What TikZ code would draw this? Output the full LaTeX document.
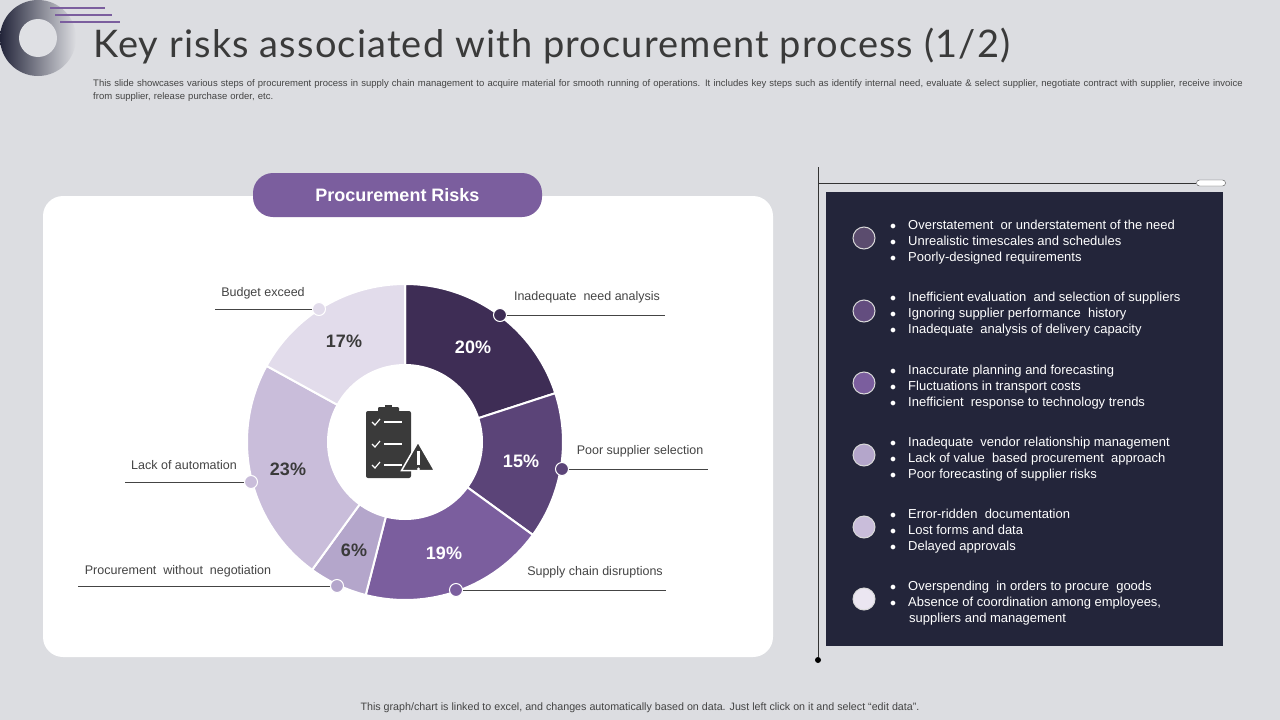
\documentclass[tikz,border=0pt]{standalone}
\usepackage{fontspec}
\setmainfont{Liberation Sans}
\newfontfamily\titlefont[LetterSpace=3]{Lato}
\usetikzlibrary{shapes.geometric}
\definecolor{bg}{HTML}{DCDDE1}
\definecolor{panel}{HTML}{23253A}
\definecolor{pA}{HTML}{3E2D55}
\definecolor{pB}{HTML}{5B4478}
\definecolor{pC}{HTML}{7B5E9E}
\definecolor{pD}{HTML}{B4A6CB}
\definecolor{pE}{HTML}{C9BDDA}
\definecolor{pF}{HTML}{E2DCEB}
\definecolor{txt}{HTML}{444444}
\definecolor{icon}{HTML}{3A3A3A}
\tikzset{
  lbl/.style={font=\fontsize{12.5}{14}\selectfont, text=txt, inner sep=0pt},
  pct/.style={font=\fontsize{18}{20}\selectfont\bfseries, inner sep=0pt},
  leader/.style={draw=txt, line width=0.6pt},
  dot/.style={circle, minimum size=13pt, inner sep=0pt, draw=white, line width=1pt},
  bigdot/.style={circle, minimum size=22pt, inner sep=0pt, draw=white!85!black, line width=1pt},
  risk/.style={font=\fontsize{13}{16}\selectfont, text=white, align=left, anchor=north west, inner sep=0pt}
}
\begin{document}
\begin{tikzpicture}[x=1pt,y=-1pt]
\fill[bg] (0,0) rectangle (1280,720);
\useasboundingbox (0,0) rectangle (1280,720);

% logo
\shade[left color=panel, right color=bg, shading angle=90] (38,38) circle (38);
\fill[bg!90!white] (38,38) circle (19);
\draw[pC, line width=2pt] (50,8) -- (105,8) (55,15) -- (112,15) (60,22) -- (120,22);

% title
\node[anchor=west, inner sep=0pt, font=\titlefont\fontsize{38}{40}\selectfont, text=icon] (title) at (93,46) {Key risks associated with procurement process (1/2)};
\node[anchor=north west, inner sep=0pt, align=left, text width=1162pt, font=\fontsize{9.5}{13}\selectfont, text=txt] (sub) at (93,79)
  {This slide showcases various steps of procurement process in supply chain management to acquire material for smooth running of operations. It includes key steps such as identify internal need, evaluate \& select supplier, negotiate contract with supplier, receive invoice from supplier, release purchase order, etc.};

% left card
\fill[white, rounded corners=20pt] (43,196) rectangle (773,657);
\fill[pC, rounded corners=20pt] (253,173) rectangle (542,217);
\node[font=\fontsize{18}{20}\selectfont\bfseries, text=white] (head) at (397.5,195) {Procurement Risks};

% donut
\begin{scope}[shift={(405,442)}, yscale=-1]
  \foreach \a/\b/\c in {90/18/pA, 18/-36/pB, -36/-104.4/pC, -104.4/-126/pD, -126/-208.8/pE, -208.8/-270/pF}
    \fill[\c, draw=white, line width=2pt] (\a:158) arc (\a:\b:158) -- (\b:0) -- cycle;
  \fill[white] (0,0) circle (78);
\end{scope}
\node[pct, text=white] (p20) at (473,347) {20\%};
\node[pct, text=white] (p15) at (521,461) {15\%};
\node[pct, text=white] (p19) at (444,553) {19\%};
\node[pct, text=icon] (p06) at (354,550) {6\%};
\node[pct, text=icon] (p23) at (288,469) {23\%};
\node[pct, text=icon] (p17) at (344,341) {17\%};

% centre icon
\fill[icon, rounded corners=2pt] (366,411) rectangle (411,478);
\fill[icon, rounded corners=1pt] (378,407) rectangle (399,413);
\fill[icon] (385,405) rectangle (392,408);
\foreach \y in {422,444,465}{
  \draw[white, line width=1.2pt] (372,\y) -- (375,\y+3) -- (380,\y-3);
  \draw[white, line width=1.2pt] (384,\y) -- (402,\y);
}
\node[regular polygon, regular polygon sides=3, fill=icon, draw=white, line width=1.5pt, minimum size=38pt, inner sep=0pt] (warn) at (418,461) {};
\fill[white] (417,451) rectangle (420,465);
\fill[white] (418.5,469) circle (1.7);

% leaders
\node[dot, fill=pA] (dA) at (500,315) {};
\coordinate (eA) at (665,315);
\draw[leader] (dA) -- (eA);
\node[lbl] (lA) at (587,297) {Inadequate\ \ need analysis};
\node[dot, fill=pB] (dB) at (562,469) {};
\coordinate (eB) at (708,469);
\draw[leader] (dB) -- (eB);
\node[lbl] (lB) at (640,451) {Poor supplier selection};
\node[dot, fill=pC] (dC) at (456,590) {};
\coordinate (eC) at (666,590);
\draw[leader] (dC) -- (eC);
\node[lbl] (lC) at (595,572) {Supply chain disruptions};
\node[dot, fill=pD] (dD) at (337,586) {};
\coordinate (eD) at (78,586);
\draw[leader] (dD) -- (eD);
\node[lbl] (lD) at (178,571) {Procurement\ \ without\ \ negotiation};
\node[dot, fill=pE] (dE) at (251,482) {};
\coordinate (eE) at (125,482);
\draw[leader] (dE) -- (eE);
\node[lbl] (lE) at (184,465) {Lack of automation};
\node[dot, fill=pF] (dF) at (319,309) {};
\coordinate (eF) at (215,309);
\draw[leader] (dF) -- (eF);
\node[lbl] (lF) at (263,293) {Budget exceed};

% right panel
\fill[panel] (826,192) rectangle (1223,646);
\coordinate (vtop) at (818,167);
\node[circle, fill=black, inner sep=0pt, minimum size=6pt] (vbot) at (818,660) {};
\draw[black!80, line width=0.8pt] (vtop) -- (vbot);
\node[draw=black!70, fill=white, rounded corners=3pt, minimum width=29pt, minimum height=6pt, inner sep=0pt] (pill) at (1211,183) {};
\coordinate (hleft) at (818,183);
\draw[black!80, line width=0.8pt] (hleft) -- (pill);

\node[bigdot, fill=pA!85!white] (c1) at (864,238) {};
\node[bigdot, fill=pB!95!white] (c2) at (864,311) {};
\node[bigdot, fill=pC] (c3) at (864,383) {};
\node[bigdot, fill=pD] (c4) at (864,455) {};
\node[bigdot, fill=pE] (c5) at (864,527) {};
\node[bigdot, fill=pF!70!white] (c6) at (864,599) {};

\node[risk] (r1) at (890,220) {$\bullet$\hspace{12pt}Overstatement\ \ or understatement\ of the need\\$\bullet$\hspace{12pt}Unrealistic timescales and schedules\\$\bullet$\hspace{12pt}Poorly-designed requirements};
\node[risk] (r2) at (890,292) {$\bullet$\hspace{12pt}Inefficient evaluation\ \ and selection of suppliers\\$\bullet$\hspace{12pt}Ignoring supplier performance\ \ history\\$\bullet$\hspace{12pt}Inadequate\ \ analysis of delivery capacity};
\node[risk] (r3) at (890,365) {$\bullet$\hspace{12pt}Inaccurate planning and forecasting\\$\bullet$\hspace{12pt}Fluctuations in transport costs\\$\bullet$\hspace{12pt}Inefficient\ \ response to technology trends};
\node[risk] (r4) at (890,437) {$\bullet$\hspace{12pt}Inadequate\ \ vendor relationship management\\$\bullet$\hspace{12pt}Lack of value\ \ based procurement\ \ approach\\$\bullet$\hspace{12pt}Poor forecasting of supplier risks};
\node[risk] (r5) at (890,509) {$\bullet$\hspace{12pt}Error-ridden\ \ documentation\\$\bullet$\hspace{12pt}Lost forms and data\\$\bullet$\hspace{12pt}Delayed approvals};
\node[risk] (r6) at (890,581) {$\bullet$\hspace{12pt}Overspending\ \ in orders to procure\ \ goods\\$\bullet$\hspace{12pt}Absence of coordination among employees,\\\hspace*{19pt}suppliers and management};

% footer
\node[font=\fontsize{10.7}{12}\selectfont, text=txt] (foot) at (640,708) {This graph/chart is linked to excel, and changes automatically based on data. Just left click on it and select ``edit data''.};
\end{tikzpicture}
\end{document}
